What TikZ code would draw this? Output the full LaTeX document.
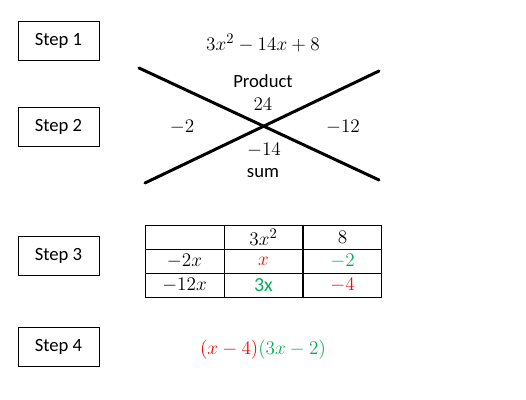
\documentclass[tikz,border=0pt]{standalone}
\usepackage{fontspec}
\setsansfont{Carlito}
\usetikzlibrary{matrix}
\definecolor{facRed}{RGB}{255,0,0}
\definecolor{facGreen}{RGB}{0,176,80}
\tikzset{xpanel/.style={
  x=0.75pt, y=-0.75pt,
  stepbox/.style={draw, line width=0.75pt, minimum width=60.75pt, minimum height=29.25pt, inner sep=0pt, font=\sffamily\fontsize{14}{16}\selectfont},
  mathlab/.style={font=\fontsize{15}{17}\selectfont, inner sep=1pt},
  wordlab/.style={font=\sffamily\fontsize{14}{16}\selectfont, inner sep=1pt},
  cross/.style={line width=2.25pt, line cap=round},
}}

\begin{document}
\begin{tikzpicture}[xpanel,
  cell/.style={draw, line width=0.75pt, minimum width=59.25pt, minimum height=18pt, inner sep=0pt, anchor=center, font=\fontsize{15}{17}\selectfont},
]
\useasboundingbox (0,0) rectangle (526,400);

% ---- step labels ----
\node[stepbox] (s1) at (58.5,40.5)  {Step 1};
\node[stepbox] (s2) at (58.5,126.5) {Step 2};
\node[stepbox] (s3) at (58.5,255.5) {Step 3};
\node[stepbox] (s4) at (58.5,346.5) {Step 4};

% ---- step 1: the trinomial ----
\node[mathlab] (poly) at (263,43) {$3x^2-14x+8$};

% ---- step 2: the X ----
\coordinate (xa) at (139,68);
\coordinate (xb) at (379,180);
\coordinate (xc) at (145,183);
\coordinate (xd) at (379,71);
\draw[cross] (xa) -- (xb);
\draw[cross] (xc) -- (xd);

\node[wordlab] (prodw) at (263,81)  {Product};
\node[mathlab] (prodn) at (263,104) {$24$};
\node[mathlab] (left)  at (182,127) {$-2$};
\node[mathlab] (right) at (343,127) {$-12$};
\node[mathlab] (sumn)  at (264,150) {$-14$};
\node[wordlab] (sumw)  at (263,173) {sum};

% ---- step 3: the box ----
\matrix (tab) [matrix of nodes, nodes in empty cells, nodes={cell},
  column sep=-0.75pt, row sep=-0.75pt] at (263.5,261) {
          & $3x^2$ & $8$ \\
  $-2x$   & |[text=facRed]| $x$ & |[text=facGreen]| $-2$ \\
  $-12x$  & |[text=facGreen]| \textsf{3x} & |[text=facRed]| $-4$ \\
};

% ---- step 4: the factors ----
\node[mathlab] (fact) at (263,350) {$\textcolor{facRed}{(x-4)}\textcolor{facGreen}{(3x-2)}$};

\end{tikzpicture}
\end{document}
